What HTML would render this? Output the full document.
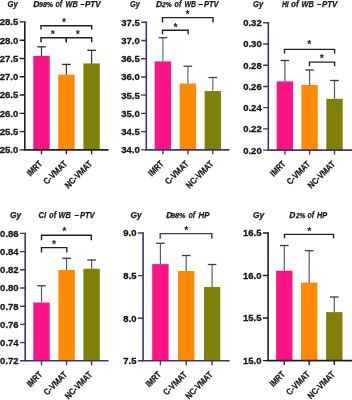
<!DOCTYPE html>
<html><head><meta charset="utf-8"><style>
html,body{margin:0;padding:0;background:#fff;}
body{width:352px;height:400px;overflow:hidden;}
svg{display:block;will-change:transform;}
text{font-family:"Liberation Sans", sans-serif;fill:#161616;}
.tl{font-size:9.5px;font-weight:bold;stroke:#161616;stroke-width:0.3px;}
.cl{font-size:9px;font-weight:bold;stroke:#161616;stroke-width:0.25px;}
.ast{font-size:10.5px;font-weight:bold;}
.gy{font-size:7.5px;font-weight:bold;font-style:italic;}
.tt{font-weight:bold;font-style:italic;stroke:#161616;stroke-width:0.25px;}
</style></head><body>
<svg width="352" height="400" viewBox="0 0 352 400">
<rect width="352" height="400" fill="#fff"/>
<rect x="33.30" y="55.90" width="16.40" height="94.00" fill="#fa1486"/>
<path d="M41.50 55.90V46.80" stroke="#333333" stroke-width="1.15" fill="none"/>
<path d="M37.20 46.80H45.80" stroke="#2a2a2a" stroke-width="1.3" fill="none"/>
<rect x="58.20" y="74.70" width="16.40" height="75.20" fill="#ff8a05"/>
<path d="M66.40 74.70V64.40" stroke="#333333" stroke-width="1.15" fill="none"/>
<path d="M62.10 64.40H70.70" stroke="#2a2a2a" stroke-width="1.3" fill="none"/>
<rect x="83.40" y="63.40" width="16.40" height="86.50" fill="#80800a"/>
<path d="M91.60 63.40V50.30" stroke="#333333" stroke-width="1.15" fill="none"/>
<path d="M87.30 50.30H95.90" stroke="#2a2a2a" stroke-width="1.3" fill="none"/>
<path d="M24.80 21.20V149.90" stroke="#202020" stroke-width="1.6" fill="none"/>
<path d="M19.60 21.90H24.80M19.60 40.19H24.80M19.60 58.47H24.80M19.60 76.76H24.80M19.60 95.04H24.80M19.60 113.33H24.80M19.60 131.61H24.80M19.60 149.90H24.80" stroke="#202020" stroke-width="1.4" fill="none"/>
<text x="18.20" y="25.30" text-anchor="end" class="tl">28.5</text>
<text x="18.20" y="43.59" text-anchor="end" class="tl">28.0</text>
<text x="18.20" y="61.87" text-anchor="end" class="tl">27.5</text>
<text x="18.20" y="80.16" text-anchor="end" class="tl">27.0</text>
<text x="18.20" y="98.44" text-anchor="end" class="tl">26.5</text>
<text x="18.20" y="116.73" text-anchor="end" class="tl">26.0</text>
<text x="18.20" y="135.01" text-anchor="end" class="tl">25.5</text>
<text x="18.20" y="153.30" text-anchor="end" class="tl">25.0</text>
<path d="M24.00 149.90H108.50" stroke="#202020" stroke-width="1.6" fill="none"/>
<path d="M41.50 149.90V154.30M66.40 149.90V154.30M91.60 149.90V154.30" stroke="#202020" stroke-width="1.4" fill="none"/>
<text transform="translate(42.80,164.40) rotate(-45)" text-anchor="end" class="cl" textLength="17.484" lengthAdjust="spacingAndGlyphs">IMRT</text>
<text transform="translate(67.70,164.40) rotate(-45)" text-anchor="end" class="cl" textLength="29.233999999999998" lengthAdjust="spacingAndGlyphs">C-VMAT</text>
<text transform="translate(92.90,164.40) rotate(-45)" text-anchor="end" class="cl" textLength="34.686" lengthAdjust="spacingAndGlyphs">NC-VMAT</text>
<path d="M41.00 29.60V25.70H91.70V29.60" stroke="#202020" stroke-width="1.4" fill="none"/>
<text x="64.00" y="25.70" text-anchor="middle" class="ast">*</text>
<path d="M41.00 42.30V37.70H66.30V42.30" stroke="#202020" stroke-width="1.4" fill="none"/>
<text x="52.90" y="38.40" text-anchor="middle" class="ast">*</text>
<path d="M66.30 42.30V37.70H91.70V42.30" stroke="#202020" stroke-width="1.4" fill="none"/>
<text x="77.80" y="38.40" text-anchor="middle" class="ast">*</text>
<rect x="154.70" y="61.40" width="16.40" height="88.50" fill="#fa1486"/>
<path d="M162.90 61.40V37.70" stroke="#666666" stroke-width="1.15" fill="none"/>
<path d="M158.60 37.70H167.20" stroke="#444444" stroke-width="1.3" fill="none"/>
<rect x="179.70" y="83.50" width="16.40" height="66.40" fill="#ff8a05"/>
<path d="M187.90 83.50V66.25" stroke="#666666" stroke-width="1.15" fill="none"/>
<path d="M183.60 66.25H192.20" stroke="#444444" stroke-width="1.3" fill="none"/>
<rect x="204.60" y="91.00" width="16.40" height="58.90" fill="#80800a"/>
<path d="M212.80 91.00V77.50" stroke="#666666" stroke-width="1.15" fill="none"/>
<path d="M208.50 77.50H217.10" stroke="#444444" stroke-width="1.3" fill="none"/>
<path d="M146.30 21.50V149.90" stroke="#38386e" stroke-width="1.6" fill="none"/>
<path d="M141.10 22.20H146.30M141.10 40.44H146.30M141.10 58.69H146.30M141.10 76.93H146.30M141.10 95.17H146.30M141.10 113.41H146.30M141.10 131.66H146.30M141.10 149.90H146.30" stroke="#38386e" stroke-width="1.4" fill="none"/>
<text x="139.70" y="25.60" text-anchor="end" class="tl">37.5</text>
<text x="139.70" y="43.84" text-anchor="end" class="tl">37.0</text>
<text x="139.70" y="62.09" text-anchor="end" class="tl">36.5</text>
<text x="139.70" y="80.33" text-anchor="end" class="tl">36.0</text>
<text x="139.70" y="98.57" text-anchor="end" class="tl">35.5</text>
<text x="139.70" y="116.81" text-anchor="end" class="tl">35.0</text>
<text x="139.70" y="135.06" text-anchor="end" class="tl">34.5</text>
<text x="139.70" y="153.30" text-anchor="end" class="tl">34.0</text>
<path d="M145.50 149.90H229.50" stroke="#38386e" stroke-width="1.6" fill="none"/>
<path d="M162.90 149.90V154.30M187.90 149.90V154.30M212.80 149.90V154.30" stroke="#38386e" stroke-width="1.4" fill="none"/>
<text transform="translate(164.20,164.40) rotate(-45)" text-anchor="end" class="cl" textLength="17.484" lengthAdjust="spacingAndGlyphs">IMRT</text>
<text transform="translate(189.20,164.40) rotate(-45)" text-anchor="end" class="cl" textLength="29.233999999999998" lengthAdjust="spacingAndGlyphs">C-VMAT</text>
<text transform="translate(214.10,164.40) rotate(-45)" text-anchor="end" class="cl" textLength="34.686" lengthAdjust="spacingAndGlyphs">NC-VMAT</text>
<path d="M162.50 22.40V17.60H213.00V22.40" stroke="#202020" stroke-width="1.4" fill="none"/>
<text x="187.50" y="18.20" text-anchor="middle" class="ast">*</text>
<path d="M162.50 34.30V30.30H188.20V34.30" stroke="#202020" stroke-width="1.4" fill="none"/>
<text x="175.50" y="31.20" text-anchor="middle" class="ast">*</text>
<rect x="276.70" y="81.40" width="16.40" height="68.70" fill="#fa1486"/>
<path d="M284.90 81.40V60.50" stroke="#555555" stroke-width="1.15" fill="none"/>
<path d="M280.60 60.50H289.20" stroke="#3a3a3a" stroke-width="1.3" fill="none"/>
<rect x="301.40" y="85.00" width="16.40" height="65.10" fill="#ff8a05"/>
<path d="M309.60 85.00V70.00" stroke="#555555" stroke-width="1.15" fill="none"/>
<path d="M305.30 70.00H313.90" stroke="#3a3a3a" stroke-width="1.3" fill="none"/>
<rect x="326.30" y="98.80" width="16.40" height="51.30" fill="#80800a"/>
<path d="M334.50 98.80V80.50" stroke="#555555" stroke-width="1.15" fill="none"/>
<path d="M330.20 80.50H338.80" stroke="#3a3a3a" stroke-width="1.3" fill="none"/>
<path d="M268.30 22.10V150.10" stroke="#38386e" stroke-width="1.6" fill="none"/>
<path d="M263.10 22.80H268.30M263.10 44.02H268.30M263.10 65.23H268.30M263.10 86.45H268.30M263.10 107.67H268.30M263.10 128.88H268.30M263.10 150.10H268.30" stroke="#38386e" stroke-width="1.4" fill="none"/>
<text x="261.70" y="26.20" text-anchor="end" class="tl">0.32</text>
<text x="261.70" y="47.42" text-anchor="end" class="tl">0.30</text>
<text x="261.70" y="68.63" text-anchor="end" class="tl">0.28</text>
<text x="261.70" y="89.85" text-anchor="end" class="tl">0.26</text>
<text x="261.70" y="111.07" text-anchor="end" class="tl">0.24</text>
<text x="261.70" y="132.28" text-anchor="end" class="tl">0.22</text>
<text x="261.70" y="153.50" text-anchor="end" class="tl">0.20</text>
<path d="M267.50 150.10H352.00" stroke="#38386e" stroke-width="1.6" fill="none"/>
<path d="M284.90 150.10V154.50M309.60 150.10V154.50M334.50 150.10V154.50" stroke="#38386e" stroke-width="1.4" fill="none"/>
<text transform="translate(286.20,164.60) rotate(-45)" text-anchor="end" class="cl" textLength="17.484" lengthAdjust="spacingAndGlyphs">IMRT</text>
<text transform="translate(310.90,164.60) rotate(-45)" text-anchor="end" class="cl" textLength="29.233999999999998" lengthAdjust="spacingAndGlyphs">C-VMAT</text>
<text transform="translate(335.80,164.60) rotate(-45)" text-anchor="end" class="cl" textLength="34.686" lengthAdjust="spacingAndGlyphs">NC-VMAT</text>
<path d="M284.50 53.60V49.40H334.60V53.60" stroke="#202020" stroke-width="1.4" fill="none"/>
<text x="309.40" y="48.40" text-anchor="middle" class="ast">*</text>
<path d="M309.50 66.20V62.10H334.60V66.20" stroke="#202020" stroke-width="1.4" fill="none"/>
<text x="321.90" y="61.70" text-anchor="middle" class="ast">*</text>
<rect x="33.30" y="302.50" width="16.40" height="58.30" fill="#fa1486"/>
<path d="M41.50 302.50V285.75" stroke="#555555" stroke-width="1.15" fill="none"/>
<path d="M37.20 285.75H45.80" stroke="#3a3a3a" stroke-width="1.3" fill="none"/>
<rect x="58.40" y="270.00" width="16.40" height="90.80" fill="#ff8a05"/>
<path d="M66.60 270.00V258.25" stroke="#555555" stroke-width="1.15" fill="none"/>
<path d="M62.30 258.25H70.90" stroke="#3a3a3a" stroke-width="1.3" fill="none"/>
<rect x="83.40" y="268.75" width="16.40" height="92.05" fill="#80800a"/>
<path d="M91.60 268.75V260.00" stroke="#555555" stroke-width="1.15" fill="none"/>
<path d="M87.30 260.00H95.90" stroke="#3a3a3a" stroke-width="1.3" fill="none"/>
<path d="M25.20 232.70V360.80" stroke="#38386e" stroke-width="1.6" fill="none"/>
<path d="M20.00 233.40H25.20M20.00 251.60H25.20M20.00 269.80H25.20M20.00 288.00H25.20M20.00 306.20H25.20M20.00 324.40H25.20M20.00 342.60H25.20M20.00 360.80H25.20" stroke="#38386e" stroke-width="1.4" fill="none"/>
<text x="18.60" y="236.80" text-anchor="end" class="tl">0.86</text>
<text x="18.60" y="255.00" text-anchor="end" class="tl">0.84</text>
<text x="18.60" y="273.20" text-anchor="end" class="tl">0.82</text>
<text x="18.60" y="291.40" text-anchor="end" class="tl">0.80</text>
<text x="18.60" y="309.60" text-anchor="end" class="tl">0.78</text>
<text x="18.60" y="327.80" text-anchor="end" class="tl">0.76</text>
<text x="18.60" y="346.00" text-anchor="end" class="tl">0.74</text>
<text x="18.60" y="364.20" text-anchor="end" class="tl">0.72</text>
<path d="M24.40 360.80H108.50" stroke="#38386e" stroke-width="1.6" fill="none"/>
<path d="M41.50 360.80V365.20M66.60 360.80V365.20M91.60 360.80V365.20" stroke="#38386e" stroke-width="1.4" fill="none"/>
<text transform="translate(42.80,375.20) rotate(-45)" text-anchor="end" class="cl" textLength="17.484" lengthAdjust="spacingAndGlyphs">IMRT</text>
<text transform="translate(67.90,375.20) rotate(-45)" text-anchor="end" class="cl" textLength="29.233999999999998" lengthAdjust="spacingAndGlyphs">C-VMAT</text>
<text transform="translate(92.90,375.20) rotate(-45)" text-anchor="end" class="cl" textLength="34.686" lengthAdjust="spacingAndGlyphs">NC-VMAT</text>
<path d="M41.50 240.20V235.30H91.30V240.20" stroke="#202020" stroke-width="1.4" fill="none"/>
<text x="64.40" y="235.30" text-anchor="middle" class="ast">*</text>
<path d="M41.50 252.40V247.60H66.80V252.40" stroke="#202020" stroke-width="1.4" fill="none"/>
<text x="54.10" y="248.00" text-anchor="middle" class="ast">*</text>
<rect x="152.20" y="264.10" width="16.40" height="96.70" fill="#fa1486"/>
<path d="M160.40 264.10V243.25" stroke="#555555" stroke-width="1.15" fill="none"/>
<path d="M156.10 243.25H164.70" stroke="#3a3a3a" stroke-width="1.3" fill="none"/>
<rect x="178.00" y="271.00" width="16.40" height="89.80" fill="#ff8a05"/>
<path d="M186.20 271.00V255.50" stroke="#555555" stroke-width="1.15" fill="none"/>
<path d="M181.90 255.50H190.50" stroke="#3a3a3a" stroke-width="1.3" fill="none"/>
<rect x="203.90" y="287.00" width="16.40" height="73.80" fill="#80800a"/>
<path d="M212.10 287.00V264.50" stroke="#555555" stroke-width="1.15" fill="none"/>
<path d="M207.80 264.50H216.40" stroke="#3a3a3a" stroke-width="1.3" fill="none"/>
<path d="M143.10 232.30V360.80" stroke="#38386e" stroke-width="1.6" fill="none"/>
<path d="M137.90 233.00H143.10M137.90 275.60H143.10M137.90 318.20H143.10M137.90 360.80H143.10" stroke="#38386e" stroke-width="1.4" fill="none"/>
<text x="136.50" y="236.40" text-anchor="end" class="tl">9.0</text>
<text x="136.50" y="279.00" text-anchor="end" class="tl">8.5</text>
<text x="136.50" y="321.60" text-anchor="end" class="tl">8.0</text>
<text x="136.50" y="364.20" text-anchor="end" class="tl">7.5</text>
<path d="M142.30 360.80H229.60" stroke="#38386e" stroke-width="1.6" fill="none"/>
<path d="M160.40 360.80V365.20M186.20 360.80V365.20M212.10 360.80V365.20" stroke="#38386e" stroke-width="1.4" fill="none"/>
<text transform="translate(161.70,375.20) rotate(-45)" text-anchor="end" class="cl" textLength="17.484" lengthAdjust="spacingAndGlyphs">IMRT</text>
<text transform="translate(187.50,375.20) rotate(-45)" text-anchor="end" class="cl" textLength="29.233999999999998" lengthAdjust="spacingAndGlyphs">C-VMAT</text>
<text transform="translate(213.40,375.20) rotate(-45)" text-anchor="end" class="cl" textLength="34.686" lengthAdjust="spacingAndGlyphs">NC-VMAT</text>
<path d="M160.20 238.80V233.60H211.80V238.80" stroke="#38386e" stroke-width="1.4" fill="none"/>
<text x="186.25" y="234.20" text-anchor="middle" class="ast">*</text>
<rect x="276.10" y="270.75" width="16.40" height="89.85" fill="#fa1486"/>
<path d="M284.30 270.75V245.50" stroke="#555555" stroke-width="1.15" fill="none"/>
<path d="M280.00 245.50H288.60" stroke="#3a3a3a" stroke-width="1.3" fill="none"/>
<rect x="301.00" y="282.50" width="16.40" height="78.10" fill="#ff8a05"/>
<path d="M309.20 282.50V250.75" stroke="#555555" stroke-width="1.15" fill="none"/>
<path d="M304.90 250.75H313.50" stroke="#3a3a3a" stroke-width="1.3" fill="none"/>
<rect x="326.10" y="312.10" width="16.40" height="48.50" fill="#80800a"/>
<path d="M334.30 312.10V297.00" stroke="#555555" stroke-width="1.15" fill="none"/>
<path d="M330.00 297.00H338.60" stroke="#3a3a3a" stroke-width="1.3" fill="none"/>
<path d="M268.10 232.30V360.60" stroke="#202020" stroke-width="1.6" fill="none"/>
<path d="M262.90 233.00H268.10M262.90 275.53H268.10M262.90 318.07H268.10M262.90 360.60H268.10" stroke="#202020" stroke-width="1.4" fill="none"/>
<text x="261.50" y="236.40" text-anchor="end" class="tl">16.5</text>
<text x="261.50" y="278.93" text-anchor="end" class="tl">16.0</text>
<text x="261.50" y="321.47" text-anchor="end" class="tl">15.5</text>
<text x="261.50" y="364.00" text-anchor="end" class="tl">15.0</text>
<path d="M267.30 360.60H352.00" stroke="#202020" stroke-width="1.6" fill="none"/>
<path d="M284.30 360.60V365.00M309.20 360.60V365.00M334.30 360.60V365.00" stroke="#202020" stroke-width="1.4" fill="none"/>
<text transform="translate(285.60,375.00) rotate(-45)" text-anchor="end" class="cl" textLength="17.484" lengthAdjust="spacingAndGlyphs">IMRT</text>
<text transform="translate(310.50,375.00) rotate(-45)" text-anchor="end" class="cl" textLength="29.233999999999998" lengthAdjust="spacingAndGlyphs">C-VMAT</text>
<text transform="translate(335.60,375.00) rotate(-45)" text-anchor="end" class="cl" textLength="34.686" lengthAdjust="spacingAndGlyphs">NC-VMAT</text>
<path d="M284.50 238.20V234.40H333.60V238.20" stroke="#202020" stroke-width="1.4" fill="none"/>
<text x="309.20" y="234.50" text-anchor="middle" class="ast">*</text>
<text x="33.20" y="7.00" class="tt" style="font-size:8.5px">D</text>
<text x="39.00" y="7.00" class="tt" style="font-size:6.3px" textLength="14.00" lengthAdjust="spacingAndGlyphs">98%</text>
<text x="55.50" y="7.00" class="tt" style="font-size:8.5px" textLength="6.60" lengthAdjust="spacingAndGlyphs">of</text>
<text x="65.50" y="7.00" class="tt" style="font-size:8.5px" textLength="12.20" lengthAdjust="spacingAndGlyphs">WB</text>
<text x="80.50" y="7.00" class="tt" style="font-size:8.5px" textLength="4.00" lengthAdjust="spacingAndGlyphs">–</text>
<text x="85.00" y="7.00" class="tt" style="font-size:8.5px" textLength="15.50" lengthAdjust="spacingAndGlyphs">PTV</text>
<text x="155.95" y="7.00" class="tt" style="font-size:8.5px">D</text>
<text x="162.00" y="7.00" class="tt" style="font-size:6.3px" textLength="9.60" lengthAdjust="spacingAndGlyphs">2%</text>
<text x="174.50" y="7.00" class="tt" style="font-size:8.5px" textLength="6.80" lengthAdjust="spacingAndGlyphs">of</text>
<text x="184.50" y="7.00" class="tt" style="font-size:8.5px" textLength="11.40" lengthAdjust="spacingAndGlyphs">WB</text>
<text x="198.50" y="7.00" class="tt" style="font-size:8.5px" textLength="4.30" lengthAdjust="spacingAndGlyphs">–</text>
<text x="204.00" y="7.00" class="tt" style="font-size:8.5px" textLength="14.50" lengthAdjust="spacingAndGlyphs">PTV</text>
<text x="282.00" y="7.00" class="tt" style="font-size:8.5px" textLength="6.70" lengthAdjust="spacingAndGlyphs">HI</text>
<text x="291.00" y="7.00" class="tt" style="font-size:8.5px" textLength="7.70" lengthAdjust="spacingAndGlyphs">of</text>
<text x="301.50" y="7.00" class="tt" style="font-size:8.5px" textLength="12.30" lengthAdjust="spacingAndGlyphs">WB</text>
<text x="317.00" y="7.00" class="tt" style="font-size:8.5px" textLength="4.30" lengthAdjust="spacingAndGlyphs">–</text>
<text x="322.00" y="7.00" class="tt" style="font-size:8.5px" textLength="15.30" lengthAdjust="spacingAndGlyphs">PTV</text>
<text x="38.50" y="218.00" class="tt" style="font-size:8.5px" textLength="7.50" lengthAdjust="spacingAndGlyphs">CI</text>
<text x="49.00" y="218.00" class="tt" style="font-size:8.5px" textLength="7.20" lengthAdjust="spacingAndGlyphs">of</text>
<text x="58.50" y="218.00" class="tt" style="font-size:8.5px" textLength="12.30" lengthAdjust="spacingAndGlyphs">WB</text>
<text x="74.50" y="218.00" class="tt" style="font-size:8.5px" textLength="4.40" lengthAdjust="spacingAndGlyphs">–</text>
<text x="80.00" y="218.00" class="tt" style="font-size:8.5px" textLength="14.60" lengthAdjust="spacingAndGlyphs">PTV</text>
<text x="166.15" y="218.00" class="tt" style="font-size:8.5px">D</text>
<text x="171.00" y="218.00" class="tt" style="font-size:6.3px" textLength="14.50" lengthAdjust="spacingAndGlyphs">98%</text>
<text x="188.50" y="218.00" class="tt" style="font-size:8.5px" textLength="6.70" lengthAdjust="spacingAndGlyphs">of</text>
<text x="198.50" y="218.00" class="tt" style="font-size:8.5px" textLength="10.90" lengthAdjust="spacingAndGlyphs">HP</text>
<text x="289.30" y="218.00" class="tt" style="font-size:8.5px">D</text>
<text x="296.00" y="218.00" class="tt" style="font-size:6.3px" textLength="9.40" lengthAdjust="spacingAndGlyphs">2%</text>
<text x="307.50" y="218.00" class="tt" style="font-size:8.5px" textLength="6.60" lengthAdjust="spacingAndGlyphs">of</text>
<text x="317.00" y="218.00" class="tt" style="font-size:8.5px" textLength="10.20" lengthAdjust="spacingAndGlyphs">HP</text>
<text x="7.50" y="6.80" class="tt" style="font-size:9px" textLength="10.20" lengthAdjust="spacingAndGlyphs">Gy</text>
<text x="130.00" y="6.80" class="tt" style="font-size:9px" textLength="9.80" lengthAdjust="spacingAndGlyphs">Gy</text>
<text x="253.00" y="6.80" class="tt" style="font-size:9px" textLength="10.10" lengthAdjust="spacingAndGlyphs">Gy</text>
<text x="10.00" y="218.00" class="tt" style="font-size:9px" textLength="11.20" lengthAdjust="spacingAndGlyphs">Gy</text>
<text x="130.50" y="218.00" class="tt" style="font-size:9px" textLength="11.20" lengthAdjust="spacingAndGlyphs">Gy</text>
<text x="253.00" y="218.00" class="tt" style="font-size:9px" textLength="11.20" lengthAdjust="spacingAndGlyphs">Gy</text>
</svg>
</body></html>
